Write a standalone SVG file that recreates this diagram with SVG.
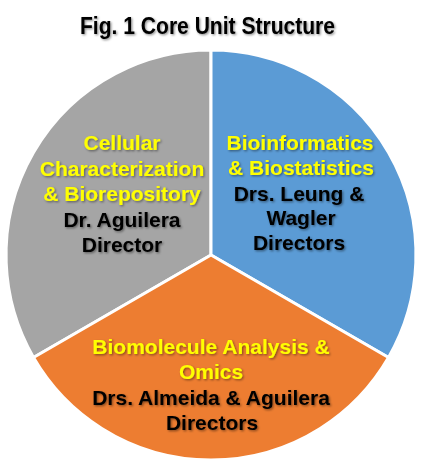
<svg xmlns="http://www.w3.org/2000/svg" width="430" height="471" viewBox="0 0 430 471">
  <defs>
    <filter id="sh" x="-10%" y="-20%" width="120%" height="150%">
      <feDropShadow dx="1.2" dy="1.2" stdDeviation="0.8" flood-color="#000" flood-opacity="0.45"/>
    </filter>
  </defs>
  <style>
    .slice { stroke: #ffffff; stroke-width: 3; stroke-linejoin: round; }
    .lbl { font-family: "Liberation Sans", Arial, sans-serif; font-weight: bold; font-size: 21px; text-anchor: middle; filter: url(#sh); }
    .y { fill: #FFFF00; }
    .k { fill: #000000; }
    .title { font-family: "Liberation Sans", Arial, sans-serif; font-weight: bold; font-size: 23px; fill: #000; filter: url(#sh); }
  </style>
  <rect width="430" height="471" fill="#ffffff"/>
  <text class="title" x="80" y="34" textLength="255" lengthAdjust="spacingAndGlyphs">Fig. 1 Core Unit Structure</text>
  <g id="connectors"></g>
  <g id="cellular">
    <path class="slice" fill="#A5A5A5" d="M211,255 L211,50 A205,205 0 0 0 33.5,357.5 Z"/>
    <text class="lbl y" x="122" y="150">Cellular</text>
    <text class="lbl y" x="122" y="175.5">Characterization</text>
    <text class="lbl y" x="122" y="201">&amp; Biorepository</text>
    <text class="lbl k" x="122" y="226.5">Dr. Aguilera</text>
    <text class="lbl k" x="122" y="252">Director</text>
  </g>
  <g id="bioinformatics">
    <path class="slice" fill="#5B9BD5" d="M211,255 L211,50 A205,205 0 0 1 388.5,357.5 Z"/>
    <text class="lbl y" x="300" y="149.5">Bioinformatics</text>
    <text class="lbl y" x="301" y="175">&amp; Biostatistics</text>
    <text class="lbl k" x="299" y="200.5">Drs. Leung &amp;</text>
    <text class="lbl k" x="301" y="225">Wagler</text>
    <text class="lbl k" x="299" y="250">Directors</text>
  </g>
  <g id="biomolecule">
    <path class="slice" fill="#ED7D31" d="M211,255 L388.5,357.5 A205,205 0 0 1 33.5,357.5 Z"/>
    <text class="lbl y" x="211" y="354">Biomolecule Analysis &amp;</text>
    <text class="lbl y" x="211" y="379">Omics</text>
    <text class="lbl k" x="211" y="405">Drs. Almeida &amp; Aguilera</text>
    <text class="lbl k" x="212" y="430">Directors</text>
  </g>
</svg>
